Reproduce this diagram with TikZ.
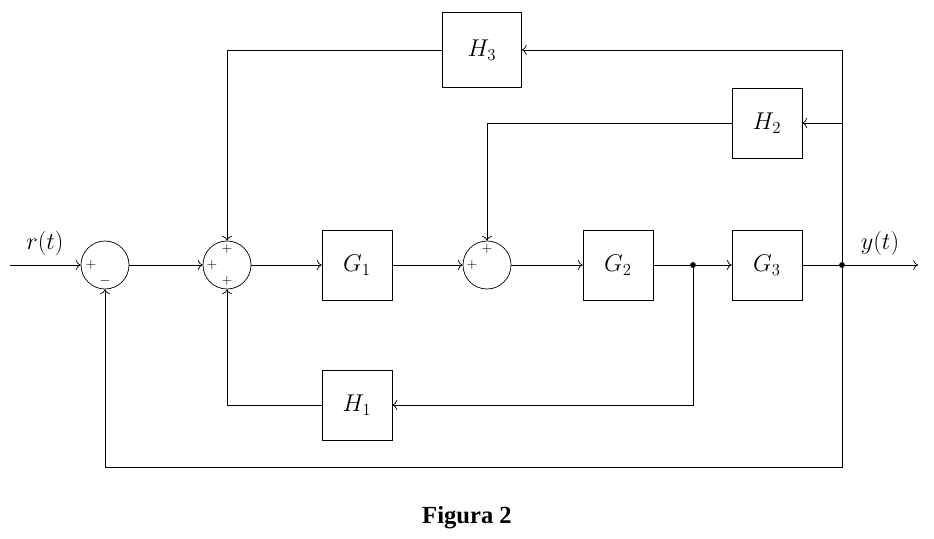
\documentclass[tikz,border=0pt]{standalone}
\usepackage{fontspec}
\usetikzlibrary{arrows.meta}
\newfontfamily\capfont{Liberation Serif}
\begin{document}
\begin{tikzpicture}[x=0.03cm,y=-0.03cm,line width=0.6pt,
  lbl/.style={font=\fontsize{21}{24}\selectfont},
  blk/.style={draw,minimum width=2.1cm,minimum height=2.1cm,inner sep=0pt,lbl},
  sum/.style={draw,circle,minimum size=1.44cm,inner sep=0pt},
  sg/.style={font=\fontsize{13}{15}\selectfont,inner sep=0pt},
  dot/.style={circle,fill,inner sep=0pt,minimum size=5pt},
  >={To[scale=1.4]}]
\useasboundingbox (0,0) rectangle (934,539);
\node[sum] (s1) at (105,265) {};
\node[sum] (s2) at (227,265) {};
\node[sum] (s3) at (487,265) {};
\node[blk] (g1) at (357,265) {$G_1$};
\node[blk] (g2) at (618,265) {$G_2$};
\node[blk] (g3) at (767,265) {$G_3$};
\node[blk,minimum width=2.37cm,minimum height=2.25cm] (h3) at (482,50) {$H_3$};
\node[blk] (h2) at (767,123) {$H_2$};
\node[blk] (h1) at (357,405) {$H_1$};
\node[dot] (d1) at (693,265) {};
\node[dot] (d2) at (842,265) {};
\coordinate (in) at (10,265);
\coordinate (out) at (918,265);
\node[sg] at (91,265) {$+$};
\node[sg] at (105,281) {$-$};
\node[sg] at (212,265) {$+$};
\node[sg] at (227,249) {$+$};
\node[sg] at (227,281) {$+$};
\node[sg] at (472,265) {$+$};
\node[sg] at (487,249) {$+$};
\node[lbl] at (45,243) {$r(t)$};
\node[lbl] at (880,243) {$y(t)$};
\draw[->] (in) -- (s1);
\draw[->] (s1) -- (s2);
\draw[->] (s2) -- (g1);
\draw[->] (g1) -- (s3);
\draw[->] (s3) -- (g2);
\draw (g2) -- (d1);
\draw[->] (d1) -- (g3);
\draw (g3) -- (d2);
\draw[->] (d2) -- (out);
\draw[->] (d2) |- (h3.east);
\draw[->] (h3.west) -| (s2.north);
\draw[->] (d2) |- (h2.east);
\draw[->] (h2.west) -| (s3.north);
\draw[->] (d1) |- (h1.east);
\draw[->] (h1.west) -| (s2.south);
\draw[->] (d2) -- (842,467) -| (s1.south);
\node[font=\capfont\bfseries\fontsize{21}{24}\selectfont] at (467,518) {Figura 2};
\end{tikzpicture}
\end{document}
